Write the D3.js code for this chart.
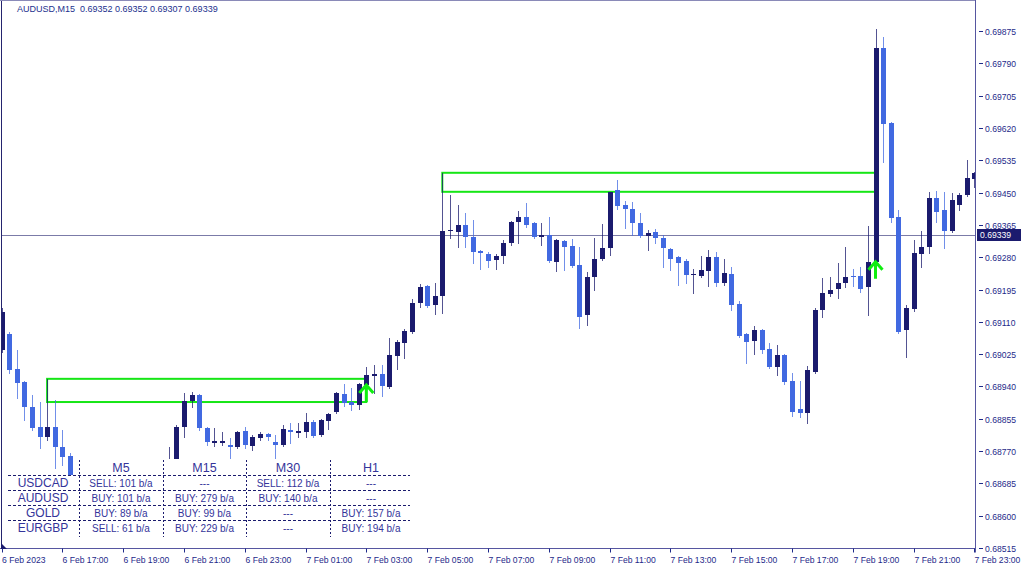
<!DOCTYPE html>
<html><head><meta charset="utf-8">
<script src="https://cdn.jsdelivr.net/npm/d3@7"></script>
<style>html,body{margin:0;padding:0;background:#fff;}svg{display:block;font-family:"Liberation Sans",Arial,sans-serif;}</style>
</head><body>
<svg id="c" width="1024" height="568"></svg>
<script>
// ---- data (AUDUSD M15, bars from 6 Feb 2023 15:00, one every 15 minutes) ----
const openP  = [0.69036,0.69078,0.68985,0.68952,0.68886,0.68833,0.68807,0.68833,0.68781,0.68757,
 0.68694,0.68672,0.68688,0.68668,0.68650,0.68662,0.68645,0.68658,0.68672,0.68665,
 0.68685,0.68700,0.68715,0.68741,0.68833,0.68902,0.68918,0.68831,0.68791,0.68791,
 0.68786,0.68781,0.68823,0.68783,0.68804,0.68815,0.68794,0.68786,0.68825,0.68818,
 0.68820,0.68846,0.68812,0.68849,0.68873,0.68920,0.68899,0.68891,0.68944,0.68967,
 0.68973,0.68939,0.69020,0.69054,0.69083,0.69160,0.69204,0.69154,0.69178,0.69349,
 0.69346,0.69365,0.69333,0.69296,0.69288,0.69273,0.69283,0.69317,0.69373,0.69386,
 0.69370,0.69333,0.69338,0.69267,0.69323,0.69309,0.69259,0.69128,0.69228,0.69275,
 0.69304,0.69457,0.69417,0.69407,0.69370,0.69336,0.69346,0.69331,0.69302,0.69281,
 0.69270,0.69233,0.69231,0.69244,0.69281,0.69212,0.69236,0.69157,0.69078,0.69060,
 0.69089,0.69039,0.68991,0.69023,0.68954,0.68881,0.68870,0.68978,0.69141,0.69183,
 0.69196,0.69212,0.69231,0.69231,0.69202,0.69267,0.69830,0.69633,0.69386,0.69089,
 0.69144,0.69288,0.69307,0.69436,0.69404,0.69349,0.69417,0.69444,0.69486];
const highP  = [0.69146,0.69083,0.69036,0.68954,0.68918,0.68899,0.68960,0.68904,0.68825,0.68765,
 0.68702,0.68695,0.68698,0.68676,0.68670,0.68668,0.68664,0.68680,0.68690,0.68695,
 0.68712,0.68730,0.68781,0.68839,0.68923,0.68925,0.68920,0.68833,0.68831,0.68820,
 0.68804,0.68823,0.68833,0.68812,0.68820,0.68818,0.68812,0.68839,0.68844,0.68844,
 0.68870,0.68852,0.68854,0.68870,0.68925,0.68946,0.68936,0.68949,0.68991,0.68996,
 0.68996,0.69067,0.69062,0.69091,0.69170,0.69210,0.69207,0.69212,0.69502,0.69444,
 0.69417,0.69396,0.69378,0.69299,0.69294,0.69288,0.69325,0.69375,0.69402,0.69423,
 0.69373,0.69370,0.69386,0.69328,0.69325,0.69328,0.69307,0.69241,0.69330,0.69367,
 0.69452,0.69483,0.69428,0.69425,0.69396,0.69352,0.69354,0.69338,0.69304,0.69283,
 0.69275,0.69249,0.69283,0.69299,0.69294,0.69275,0.69254,0.69165,0.69081,0.69099,
 0.69091,0.69054,0.69049,0.69025,0.68975,0.68954,0.68994,0.69146,0.69225,0.69228,
 0.69265,0.69307,0.69249,0.69254,0.69362,0.69880,0.69859,0.69636,0.69404,0.69154,
 0.69325,0.69349,0.69452,0.69454,0.69452,0.69449,0.69449,0.69536,0.69504];
const lowP   = [0.69031,0.68975,0.68910,0.68852,0.68825,0.68778,0.68799,0.68725,0.68733,0.68681,
 0.68660,0.68665,0.68655,0.68640,0.68635,0.68630,0.68625,0.68650,0.68655,0.68660,
 0.68678,0.68690,0.68707,0.68731,0.68807,0.68886,0.68825,0.68786,0.68783,0.68786,
 0.68749,0.68778,0.68778,0.68773,0.68799,0.68799,0.68749,0.68783,0.68791,0.68807,
 0.68807,0.68807,0.68810,0.68828,0.68870,0.68889,0.68878,0.68881,0.68941,0.68923,
 0.68915,0.68936,0.68986,0.69015,0.69081,0.69149,0.69149,0.69131,0.69133,0.69331,
 0.69307,0.69307,0.69265,0.69249,0.69254,0.69249,0.69265,0.69312,0.69317,0.69359,
 0.69331,0.69312,0.69267,0.69244,0.69246,0.69254,0.69094,0.69102,0.69194,0.69273,
 0.69286,0.69407,0.69357,0.69338,0.69333,0.69299,0.69317,0.69254,0.69246,0.69207,
 0.69212,0.69186,0.69228,0.69204,0.69204,0.69207,0.69141,0.69070,0.69002,0.69025,
 0.69028,0.68989,0.68970,0.68946,0.68862,0.68860,0.68844,0.68975,0.69123,0.69178,
 0.69173,0.69202,0.69204,0.69188,0.69128,0.69265,0.69530,0.69373,0.69081,0.69017,
 0.69138,0.69254,0.69291,0.69373,0.69304,0.69346,0.69404,0.69441,0.69465];
const closeP = [0.69136,0.68983,0.68949,0.68886,0.68831,0.68807,0.68833,0.68781,0.68754,0.68694,
 0.68672,0.68688,0.68668,0.68650,0.68662,0.68645,0.68658,0.68672,0.68665,0.68685,
 0.68700,0.68715,0.68741,0.68833,0.68902,0.68918,0.68831,0.68794,0.68797,0.68797,
 0.68781,0.68820,0.68786,0.68807,0.68815,0.68807,0.68786,0.68828,0.68820,0.68823,
 0.68846,0.68810,0.68852,0.68867,0.68923,0.68896,0.68891,0.68946,0.68970,0.68973,
 0.68941,0.69023,0.69057,0.69086,0.69160,0.69202,0.69152,0.69178,0.69349,0.69352,
 0.69365,0.69333,0.69294,0.69291,0.69270,0.69283,0.69317,0.69373,0.69386,0.69365,
 0.69333,0.69338,0.69270,0.69325,0.69307,0.69257,0.69123,0.69228,0.69275,0.69304,
 0.69452,0.69415,0.69407,0.69370,0.69336,0.69344,0.69331,0.69304,0.69275,0.69265,
 0.69233,0.69236,0.69246,0.69281,0.69212,0.69238,0.69154,0.69073,0.69057,0.69089,
 0.69036,0.68991,0.69023,0.68952,0.68873,0.68870,0.68983,0.69141,0.69186,0.69194,
 0.69212,0.69228,0.69228,0.69196,0.69267,0.69830,0.69630,0.69383,0.69083,0.69146,
 0.69291,0.69307,0.69436,0.69399,0.69349,0.69430,0.69444,0.69488,0.69502];

const priceTicks = [0.69875,0.69790,0.69705,0.69620,0.69535,0.69450,0.69365,0.69280,0.69195,
 0.69110,0.69025,0.68940,0.68855,0.68770,0.68685,0.68600,0.68515];
const timeTickBars   = [0,8,16,24,32,40,48,56,64,72,80,88,96,104,112,120,128];
const timeTickLabels = ["6 Feb 2023","6 Feb 17:00","6 Feb 19:00","6 Feb 21:00","6 Feb 23:00",
 "7 Feb 01:00","7 Feb 03:00","7 Feb 05:00","7 Feb 07:00","7 Feb 09:00","7 Feb 11:00",
 "7 Feb 13:00","7 Feb 15:00","7 Feb 17:00","7 Feb 19:00","7 Feb 21:00","7 Feb 23:00"];

const currentPrice = 0.69339;
const headerText = "AUDUSD,M15  0.69352 0.69352 0.69307 0.69339";

// supply/demand zones: bar start, bar end, top, bottom
const zoneStart = [6, 58];
const zoneEnd   = [48, 115];
const zoneTop   = [0.68960, 0.69502];
const zoneBot   = [0.68899, 0.69452];
// buy arrows: bar, base price
const arrowBars   = [48, 115];
const arrowPrices = [0.68899, 0.69223];

// signal table
const tfCols   = ["M5","M15","M30","H1"];
const symRows  = ["USDCAD","AUDUSD","GOLD","EURGBP"];
const signals  = [
 ["SELL: 101 b/a","---","SELL: 112 b/a","---"],
 ["BUY: 101 b/a","BUY: 279 b/a","BUY: 140 b/a","---"],
 ["BUY: 89 b/a","BUY: 99 b/a","---","BUY: 157 b/a"],
 ["SELL: 61 b/a","BUY: 229 b/a","---","BUY: 194 b/a"]
];

// ---- drawing ----
const svg = d3.select("#c");
const PL = 1, PR = 975.5, PT = 0.5, PB = 548.5;
const x = d3.scaleLinear().domain([0,128]).range([1.5, 974.3]);
const y = d3.scaleLinear().domain([0.68515,0.69875]).range([548,31]);
const BULL = "#1b1b6e", BEAR = "#4169e1", AX = "#1e2a8a", GREEN = "#16e616";

svg.append("rect").attr("width",1024).attr("height",568).attr("fill","#fff");
svg.append("defs").append("clipPath").attr("id","plot")
  .append("rect").attr("x",PL+0.5).attr("y",1).attr("width",PR-PL-1).attr("height",PB-1.5);

const plot = svg.append("g").attr("clip-path","url(#plot)");

// current price line
plot.append("line").attr("x1",0).attr("x2",PR).attr("y1",Math.round(y(currentPrice))+0.5)
  .attr("y2",Math.round(y(currentPrice))+0.5).attr("stroke","#7b7ba8").attr("stroke-width",1);

// zones
zoneStart.forEach((s,k)=>{
  plot.append("rect").attr("x",x(s)).attr("y",y(zoneTop[k]))
    .attr("width",x(zoneEnd[k])-x(s)).attr("height",y(zoneBot[k])-y(zoneTop[k]))
    .attr("fill","none").attr("stroke",GREEN).attr("stroke-width",2);
});

// candles
const bars = d3.range(openP.length).map(i=>({i,o:openP[i],h:highP[i],l:lowP[i],c:closeP[i]}));
const cg = plot.append("g");
bars.forEach(b=>{
  const cx = Math.round(x(b.i));
  const col = b.c >= b.o ? BULL : BEAR;
  cg.append("line").attr("x1",cx+0.5).attr("x2",cx+0.5)
    .attr("y1",Math.round(y(b.h))).attr("y2",Math.round(y(b.l))+1)
    .attr("stroke",col).attr("stroke-opacity",0.75).attr("stroke-width",1);
  const yt = Math.round(y(Math.max(b.o,b.c))), yb = Math.round(y(Math.min(b.o,b.c)));
  cg.append("rect").attr("x",cx-2).attr("width",5).attr("y",yt).attr("height",Math.max(1,yb-yt))
    .attr("fill",col);
});

// arrows
arrowBars.forEach((b,k)=>{
  const ax = x(b), ay = y(arrowPrices[k]);
  plot.append("path")
    .attr("d",`M${ax},${ay} L${ax},${ay-17} M${ax-7},${ay-9} L${ax},${ay-17} L${ax+7},${ay-9}`)
    .attr("fill","none").attr("stroke","#10ee10").attr("stroke-width",3)
    .attr("stroke-linejoin","miter").attr("stroke-linecap","butt");
});

// frame
svg.append("line").attr("x1",PL+0.5).attr("x2",PL+0.5).attr("y1",0).attr("y2",PB).attr("stroke","#24246e");
svg.append("line").attr("x1",0).attr("x2",PR).attr("y1",PT).attr("y2",PT).attr("stroke","#8a8ab8");
svg.append("line").attr("x1",0).attr("x2",PR).attr("y1",PB).attr("y2",PB).attr("stroke","#5656a0");
svg.append("line").attr("x1",PR).attr("x2",PR).attr("y1",0).attr("y2",PB+4).attr("stroke","#5656a0");
svg.append("path").attr("d",`M1,543 L1,549 L7,549 Z`).attr("fill","#1b1b6e");

// price axis
const pa = svg.append("g");
priceTicks.forEach(p=>{
  const ty = Math.round(y(p))+0.5;
  pa.append("line").attr("x1",979).attr("x2",983).attr("y1",ty).attr("y2",ty).attr("stroke",AX);
  pa.append("text").attr("x",985).attr("y",ty).attr("dy","0.35em").attr("font-size",8.6)
    .attr("fill",AX).text(p.toFixed(5));
});
const cpy = Math.round(y(currentPrice));
pa.append("rect").attr("x",977).attr("y",cpy-6).attr("width",44).attr("height",12).attr("fill","#1b1b6e");
pa.append("text").attr("x",980).attr("y",cpy).attr("dy","0.35em").attr("font-size",8.6)
  .attr("fill","#fff").text(currentPrice.toFixed(5));

// time axis
const ta = svg.append("g");
timeTickBars.forEach((b,k)=>{
  const tx = Math.round(x(b))+0.5;
  ta.append("line").attr("x1",tx).attr("x2",tx).attr("y1",PB).attr("y2",PB+4).attr("stroke",AX);
  ta.append("text").attr("x",k===0?2:tx).attr("y",563).attr("font-size",8.6).attr("fill",AX)
    .text(timeTickLabels[k]);
});

// header
svg.append("text").attr("x",17).attr("y",12).attr("font-size",9).attr("fill","#22308e")
  .attr("xml:space","preserve").style("white-space","pre").text(headerText);

// table
const tbl = svg.append("g");
const colEdges = [79,163,246,330,412];
const rowTops = [475,490,505,520,535];
const TC = "#34349a";
tbl.append("rect").attr("x",79).attr("y",459).attr("width",333).attr("height",16).attr("fill","#fff");
tbl.append("rect").attr("x",5).attr("y",475).attr("width",407).attr("height",63).attr("fill","#fff");
rowTops.slice(0,4).forEach(ry=>{
  tbl.append("line").attr("x1",8).attr("x2",410).attr("y1",ry+0.5).attr("y2",ry+0.5)
    .attr("stroke","#1b1b6e").attr("stroke-dasharray","3,2");
});
colEdges.slice(0,4).forEach(cx=>{
  tbl.append("line").attr("x1",cx+0.5).attr("x2",cx+0.5).attr("y1",460).attr("y2",537)
    .attr("stroke","#1b1b6e").attr("stroke-dasharray","2,2");
});
tfCols.forEach((t,j)=>{
  tbl.append("text").attr("x",(colEdges[j]+colEdges[j+1])/2).attr("y",467.5).attr("dy","0.35em")
    .attr("text-anchor","middle").attr("font-size",12.5).attr("fill",TC).text(t);
});
symRows.forEach((s,r)=>{
  const cy = (rowTops[r]+rowTops[r+1])/2;
  tbl.append("text").attr("x",43).attr("y",cy).attr("dy","0.35em").attr("text-anchor","middle")
    .attr("font-size",12).attr("fill",TC).text(s);
  signals[r].forEach((v,j)=>{
    tbl.append("text").attr("x",(colEdges[j]+colEdges[j+1])/2).attr("y",cy+0.5).attr("dy","0.35em")
      .attr("text-anchor","middle").attr("font-size",10).attr("fill",TC).text(v);
  });
});
</script>
</body></html>
